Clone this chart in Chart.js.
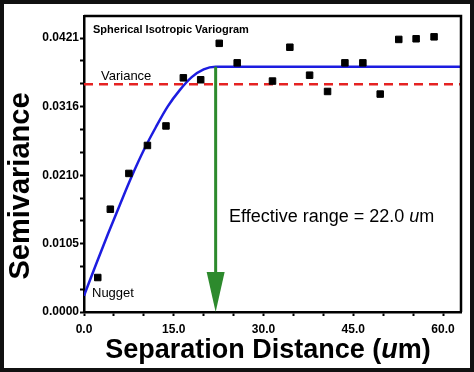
<!DOCTYPE html>
<html>
<head>
<meta charset="utf-8">
<script src="https://cdn.jsdelivr.net/npm/chart.js@4/dist/chart.umd.min.js"></script>
<style>
html, body { margin: 0; padding: 0; background: #fff; }
#wrap { width: 474px; height: 372px; }
</style>
</head>
<body>
<div id="wrap"><canvas id="chart"></canvas></div>
<script>
// measured lags and semivariance
var lagDistance = [2.3, 4.4, 7.5, 10.6, 13.7, 16.6, 19.5, 22.6, 25.6, 31.5, 34.4, 37.7, 40.7, 43.6, 46.6, 49.5, 52.6, 55.5, 58.5];
var semivariance = [0.0053, 0.0158, 0.0213, 0.0256, 0.0286, 0.0360, 0.0357, 0.0413, 0.0383, 0.0355, 0.0407, 0.0364, 0.0339, 0.0383, 0.0383, 0.0335, 0.0419, 0.0420, 0.0423];

// fitted spherical model
var modelDistance = [0, 2, 4, 6, 8, 10, 12, 14, 16, 18, 20, 22, 63];
var modelValue = [0.0025, 0.0073, 0.0120, 0.0165, 0.0209, 0.0249, 0.0284, 0.0316, 0.0341, 0.0361, 0.0373, 0.0377, 0.0377];

var variance = 0.0350;
var sill = 0.0377;
var effectiveRange = 22.0;

var xTickValues = [0, 15, 30, 45, 60];
var xTickLabels = ['0.0', '15.0', '30.0', '45.0', '60.0'];
var yTickValues = [0, 0.0105, 0.0210, 0.0316, 0.0421];
var yTickLabels = ['0.0000', '0.0105', '0.0210', '0.0316', '0.0421'];

var FONT = '"Liberation Sans", Arial, sans-serif';

function buildTicks(values, labels, extra) {
    var ticks = [];
    for (var i = 0; i < values.length; i++) {
        ticks.push({ value: values[i], txt: labels[i] });
        if (i < values.length - 1) {
            var step = (values[i + 1] - values[i]) / 3;
            ticks.push({ value: values[i] + step, txt: '' });
            ticks.push({ value: values[i] + 2 * step, txt: '' });
        }
    }
    return ticks;
}

var points = lagDistance.map(function (x, i) { return { x: x, y: semivariance[i] }; });
var model = modelDistance.map(function (x, i) { return { x: x, y: modelValue[i] }; });

var extras = {
    id: 'extras',
    afterDraw: function (chart) {
        var ctx = chart.ctx;
        var a = chart.chartArea;
        var xs = chart.scales.x, ys = chart.scales.y;
        ctx.save();

        // top and right frame
        ctx.strokeStyle = '#000';
        ctx.lineWidth = 2.5;
        ctx.beginPath();
        ctx.moveTo(a.left, a.top);
        ctx.lineTo(a.right, a.top);
        ctx.lineTo(a.right, a.bottom);
        ctx.stroke();

        // arrow head
        var ax = xs.getPixelForValue(effectiveRange);
        ctx.fillStyle = '#2d8a2d';
        ctx.beginPath();
        ctx.moveTo(ax - 9, a.bottom - 40);
        ctx.lineTo(ax + 9, a.bottom - 40);
        ctx.lineTo(ax, a.bottom);
        ctx.closePath();
        ctx.fill();

        ctx.fillStyle = '#000';
        ctx.textBaseline = 'alphabetic';
        ctx.textAlign = 'left';
        ctx.font = 'bold 11px ' + FONT;
        ctx.fillText('Spherical Isotropic Variogram', 93, 33);
        ctx.font = '13px ' + FONT;
        ctx.fillText('Variance', 101, 80);
        ctx.fillText('Nugget', 92, 297);

        // effective range label with italic u
        var parts = [['Effective range = 22.0 ', '18px '], ['u', 'italic 18px '], ['m', '18px ']];
        var tx = 229;
        parts.forEach(function (p) {
            ctx.font = p[1] + FONT;
            ctx.fillText(p[0], tx, 222);
            tx += ctx.measureText(p[0]).width;
        });

        // x axis title
        var tparts = [['Separation Distance (', 'bold 27px '], ['u', 'italic bold 27px '], ['m)', 'bold 27px ']];
        var total = 0;
        tparts.forEach(function (p) { ctx.font = p[1] + FONT; total += ctx.measureText(p[0]).width; });
        tx = 268 - total / 2;
        tparts.forEach(function (p) {
            ctx.font = p[1] + FONT;
            ctx.fillText(p[0], tx, 358);
            tx += ctx.measureText(p[0]).width;
        });

        // y axis title
        ctx.translate(21, 186);
        ctx.rotate(-Math.PI / 2);
        ctx.font = 'bold 29px ' + FONT;
        ctx.textAlign = 'center';
        ctx.textBaseline = 'middle';
        ctx.fillText('Semivariance', 0, 0);
        ctx.restore();

        // outer border
        ctx.save();
        ctx.strokeStyle = '#111';
        ctx.lineWidth = 4;
        ctx.strokeRect(2, 2, chart.width - 4, chart.height - 4);
        ctx.restore();
    }
};

new Chart(document.getElementById('chart'), {
    type: 'scatter',
    data: {
        datasets: [
            {
                label: 'Semivariance',
                data: points,
                pointStyle: 'rect',
                pointRadius: 4.6,
                backgroundColor: '#000',
                borderColor: '#000',
                borderWidth: 1,
                order: 0
            },
            {
                label: 'Spherical model',
                data: model,
                type: 'line',
                showLine: true,
                borderColor: '#1c1ce0',
                borderWidth: 2.5,
                pointRadius: 0,
                cubicInterpolationMode: 'monotone',
                fill: false,
                order: 2
            },
            {
                label: 'Variance',
                data: [{ x: 0, y: variance }, { x: 63, y: variance }],
                type: 'line',
                showLine: true,
                borderColor: '#e52222',
                borderWidth: 2.5,
                borderDash: [9, 6],
                pointRadius: 0,
                fill: false,
                order: 3
            },
            {
                label: 'Effective range',
                data: [{ x: effectiveRange, y: sill }, { x: effectiveRange, y: 0.004 }],
                type: 'line',
                showLine: true,
                borderColor: '#2d8a2d',
                borderWidth: 3,
                pointRadius: 0,
                fill: false,
                order: 1
            }
        ]
    },
    options: {
        responsive: true,
        maintainAspectRatio: false,
        animation: false,
        layout: { padding: { left: 0, top: 16, right: 13, bottom: 0 } },
        plugins: {
            legend: { display: false },
            tooltip: { enabled: false }
        },
        scales: {
            x: {
                type: 'linear',
                min: 0,
                max: 63,
                afterBuildTicks: function (scale) { scale.ticks = buildTicks(xTickValues, xTickLabels); },
                afterFit: function (scale) { scale.height = 60; },
                border: { display: true, color: '#000', width: 2.5 },
                grid: { display: true, drawOnChartArea: false, drawTicks: true, tickLength: 4, tickColor: '#000', tickWidth: 2 },
                ticks: {
                    autoSkip: false,
                    maxRotation: 0,
                    padding: 6,
                    color: '#000',
                    font: { family: FONT, size: 12, weight: 'bold' },
                    callback: function (v, i, ticks) { return ticks[i].txt; }
                }
            },
            y: {
                type: 'linear',
                min: 0,
                max: 0.0455,
                afterBuildTicks: function (scale) { scale.ticks = buildTicks(yTickValues, yTickLabels); },
                afterFit: function (scale) { scale.width = 84; },
                border: { display: true, color: '#000', width: 2.5 },
                grid: { display: true, drawOnChartArea: false, drawTicks: true, tickLength: 4, tickColor: '#000', tickWidth: 2 },
                ticks: {
                    autoSkip: false,
                    padding: 1,
                    color: '#000',
                    font: { family: FONT, size: 12, weight: 'bold' },
                    callback: function (v, i, ticks) { return ticks[i].txt; }
                }
            }
        }
    },
    plugins: [extras]
});
</script>
</body>
</html>
